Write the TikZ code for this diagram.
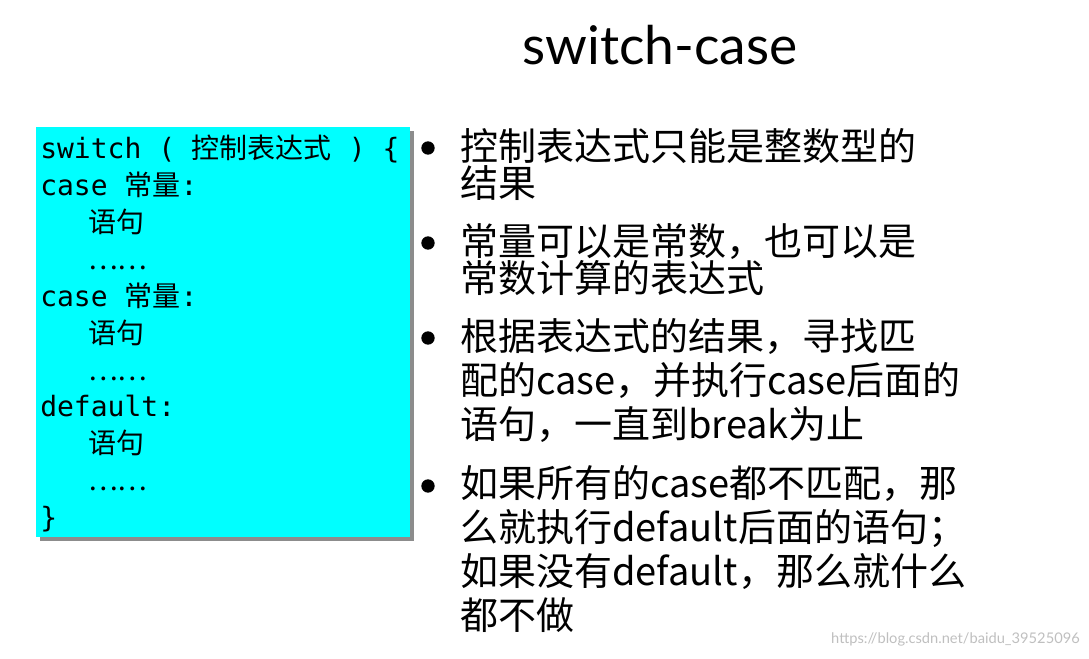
\documentclass[tikz,border=0pt]{standalone}
\usepackage{fontspec}
\setmainfont{Lato}
\setmonofont{DejaVu Sans Mono}
\newfontfamily\cjk{Noto Sans CJK SC}
\definecolor{codecyan}{RGB}{0,255,255}
\tikzset{
  codeline/.style={anchor=base west,inner sep=0pt,font=\ttfamily\fontsize{21}{21}\selectfont},
  item/.style={anchor=north west,inner sep=0pt,align=left,font=\cjk\fontsize{28.5}{33}\selectfont},
  dot/.style={circle,fill=black,inner sep=0pt,minimum size=10pt}
}
\begin{document}
\begin{tikzpicture}[x=0.75pt,y=0.75pt,yscale=-1]
\useasboundingbox (0,0) rectangle (1089,658);

% title
\node (title) [font=\fontsize{40}{40}\selectfont] at (660,45) {switch-case};

% code box
\fill[black!45] (40,131) rectangle (414,541);
\fill[codecyan] (36,127) rectangle (410,537);
\node (c1) [codeline] at (40,158) {switch ( {\cjk 控制表达式} ) \{};
\node (c2) [codeline] at (40,195) {case {\cjk 常量}:};
\node (c3) [codeline] at (88,232) {\cjk 语句};
\node (c4) [codeline] at (88,269) {\cjk ……};
\node (c5) [codeline] at (40,306) {case {\cjk 常量}:};
\node (c6) [codeline] at (88,343) {\cjk 语句};
\node (c7) [codeline] at (88,380) {\cjk ……};
\node (c8) [codeline] at (40,416) {default:};
\node (c9) [codeline] at (88,453) {\cjk 语句};
\node (c10) [codeline] at (88,490) {\cjk ……};
\node (c11) [codeline] at (40,527) {\}};

% bullets
\node (b1) [dot] at (428,148) {};
\node (t1) [item] at (460,128) {控制表达式只能是整数型的\\[-5.25pt]结果};
\node (b2) [dot] at (428,243) {};
\node (t2) [item] at (460,223) {常量可以是常数，也可以是\\[-5.25pt]常数计算的表达式};
\node (b3) [dot] at (428,338) {};
\node (t3) [item] at (460,318) {根据表达式的结果，寻找匹\\配的case，并执行case后面的\\语句，一直到break为止};
\node (b4) [dot] at (428,486) {};
\node (t4) [item] at (460,465) {如果所有的case都不匹配，那\\么就执行default后面的语句；\\如果没有default，那么就什么\\都不做};

% watermark
\node (wm) [anchor=base east,inner sep=0pt,text=black!25,font=\fontsize{11}{11}\selectfont] at (1080,643) {https://blog.csdn.net/baidu\_39525096};
\end{tikzpicture}
\end{document}
